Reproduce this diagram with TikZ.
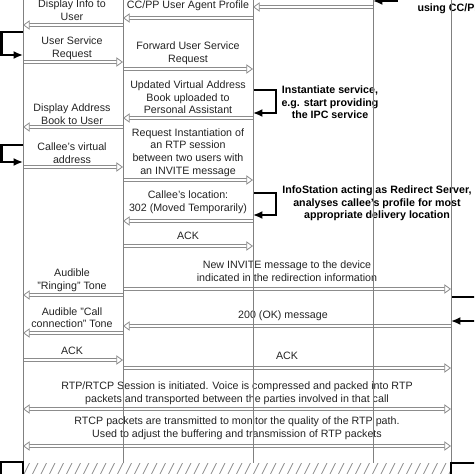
\documentclass[tikz,border=0pt]{standalone}
\usepackage{fontspec}
\setmainfont{Liberation Sans}
\usetikzlibrary{arrows.meta}

\definecolor{lifegray}{RGB}{128,128,128}
\definecolor{msggray}{RGB}{140,140,140}
\definecolor{txtgray}{RGB}{35,35,35}

\tikzset{every picture/.style={line width=0.75pt}}
\tikzset{
  lifeline/.style={draw=lifegray, line width=0.75pt},
  msgarrow/.style={draw=msggray, line width=0.6pt, double=white, double distance=1.6pt,
    -{Triangle[open, fill=white, length=5pt, width=7pt]}},
  msgboth/.style={msgarrow,
    {Triangle[open, fill=white, length=5pt, width=7pt]}-{Triangle[open, fill=white, length=5pt, width=7pt]}},
  selfloop/.style={draw=black, line width=1.5pt, -{Latex[length=7pt, width=6pt]}},
  hatchline/.style={draw=msggray, line width=0.6pt},
  msgtext/.style={inner sep=0.75pt, align=center, text=txtgray, font=\fontsize{8}{9.4}\selectfont},
  notetext/.style={inner sep=0.75pt, align=center, text=black, font=\fontsize{8}{9.4}\selectfont\bfseries},
}

\begin{document}
\begin{tikzpicture}[x=0.75pt,y=0.75pt,yscale=-1,xscale=1]
\useasboundingbox (0,0) rectangle (474,474);
\clip (0,0) rectangle (474,474);

%Lifelines
\coordinate (user) at (23,0);
\coordinate (pa) at (123,0);
\coordinate (infost) at (253,0);
\coordinate (prof) at (373,0);
\coordinate (callee) at (451,0);

% Text Node
\node[msgtext] (dispinfo) at (72,10) {Display Info to\\User};
% Text Node
\node[msgtext] (ccpp) at (188,6) {CC/PP User Agent Profile};
% Text Node
\node[notetext, anchor=west] (usingcc) at (416,9) {using CC/PP};
% Text Node
\node[msgtext] (usrreq) at (72,48) {User Service\\Request};
% Text Node
\node[msgtext] (fwdreq) at (188,53.5) {Forward User Service\\Request};
% Text Node
\node[msgtext] (upd) at (188,97.5) {Updated Virtual Address\\Book uploaded to\\Personal Assistant};
% Text Node
\node[notetext] (inst) at (330,102.5) {Instantiate service,\\e.g. start providing\\the IPC service};
% Text Node
\node[msgtext] (dispaddr) at (72,114) {Display Address\\Book to User};
% Text Node
\node[msgtext] (calleeva) at (72,153) {Callee's virtual\\address};
% Text Node
\node[msgtext] (reqinst) at (188,152.5) {Request Instantiation of\\an RTP session\\between two users with\\an INVITE message};
% Text Node
\node[msgtext] (loc) at (188,202.5) {Callee's location:\\302 (Moved Temporarily)};
% Text Node
\node[notetext] (redir) at (377,203.5) {InfoStation acting as Redirect Server,\\analyses callee's profile for most\\appropriate delivery location};
% Text Node
\node[msgtext] (ackone) at (188,236) {ACK};
% Text Node
\node[msgtext] (newinv) at (287,271) {New INVITE message to the device\\indicated in the redirection information};
% Text Node
\node[msgtext] (ring) at (72,280.5) {Audible\\"Ringing" Tone};
% Text Node
\node[msgtext] (callconn) at (72,317.5) {Audible "Call\\connection" Tone};
% Text Node
\node[msgtext] (okmsg) at (283,316) {200 (OK) message};
% Text Node
\node[msgtext] (acktwo) at (72,351) {ACK};
% Text Node
\node[msgtext] (ackthree) at (287,356) {ACK};
% Text Node
\node[msgtext] (rtp) at (237,393.5) {RTP/RTCP Session is initiated. Voice is compressed and packed into RTP\\packets and transported between the parties involved in that call};
% Text Node
\node[msgtext] (rtcp) at (237,428.5) {RTCP packets are transmitted to monitor the quality of the RTP path.\\Used to adjust the buffering and transmission of RTP packets};

%Messages
\draw[msgarrow] (prof |- 0,7) -- (infost |- 0,7);
\draw[msgarrow] (infost |- 0,18) -- (pa |- 0,18);
\draw[msgarrow] (pa |- 0,25) -- (user |- 0,25);
\draw[msgarrow] (user |- 0,62) -- (pa |- 0,62);
\draw[msgarrow] (pa |- 0,69) -- (infost |- 0,69);
\draw[msgarrow] (infost |- 0,118) -- (pa |- 0,118);
\draw[msgarrow] (pa |- 0,127) -- (user |- 0,127);
\draw[msgarrow] (user |- 0,167) -- (pa |- 0,167);
\draw[msgarrow] (pa |- 0,180) -- (infost |- 0,180);
\draw[msgarrow] (infost |- 0,221) -- (pa |- 0,221);
\draw[msgarrow] (pa |- 0,246) -- (infost |- 0,246);
\draw[msgarrow] (pa |- 0,289) -- (callee |- 0,289);
\draw[msgarrow] (pa |- 0,295) -- (user |- 0,295);
\draw[msgarrow] (callee |- 0,326) -- (pa |- 0,326);
\draw[msgarrow] (pa |- 0,333) -- (user |- 0,333);
\draw[msgarrow] (user |- 0,360) -- (pa |- 0,360);
\draw[msgarrow] (pa |- 0,368) -- (callee |- 0,368);
\draw[msgboth] (user |- 0,409) -- (callee |- 0,409);
\draw[msgboth] (user |- 0,446) -- (callee |- 0,446);

%Local processing
\draw[selfloop] (397,-20) -- (397,1) -- (prof |- 0,1);
\draw[selfloop] (user |- 0,32) -- (1.5,32) -- (1.5,55) -- (user |- 0,55);
\draw[selfloop] (infost |- 0,90) -- (276,90) -- (276,113) -- (infost |- 0,113);
\draw[selfloop] (user |- 0,145) -- (1.5,145) -- (1.5,162) -- (user |- 0,162);
\draw[selfloop] (infost |- 0,193) -- (276,193) -- (276,215) -- (infost |- 0,215);
\draw[selfloop] (callee |- 0,297) -- (490,297) -- (490,321) -- (callee |- 0,321);

%Lifelines
\foreach \ll in {user,pa,infost,prof,callee}
  \draw[lifeline] (\ll) -- (\ll |- 0,463);

%End of sequence
\begin{scope}
\clip (user |- 0,463) rectangle (callee |- 0,474);
\foreach \hx in {15,23.5,...,460}
  \draw[hatchline] (\hx,475) -- (\hx+6,463);
\end{scope}
\draw[line width=1.5pt] (0,462) -- (user |- 0,462) -- (user |- 0,480);
\draw[line width=1.5pt] (1,462) -- (1,480);
\draw[line width=1.5pt] (480,463) -- (callee |- 0,463) -- (callee |- 0,480);

\end{tikzpicture}
\end{document}
